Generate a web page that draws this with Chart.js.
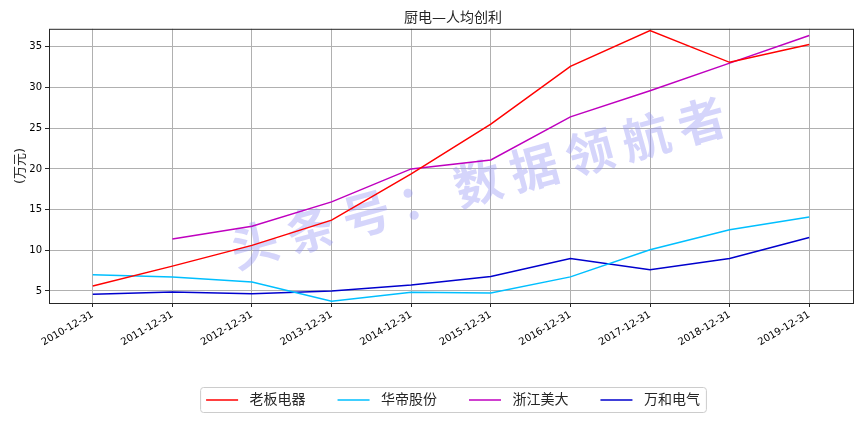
<!DOCTYPE html>
<html>
<head>
<meta charset="utf-8">
<script src="https://cdn.jsdelivr.net/npm/chart.js@4/dist/chart.umd.min.js"></script>
<style>
  html, body { margin: 0; padding: 0; background: #fff; }
  #wrap { width: 864px; height: 432px; }
</style>
</head>
<body>
<div id="wrap"><canvas id="chart" width="864" height="432"></canvas></div>
<script>
const dates = ['2010-12-31','2011-12-31','2012-12-31','2013-12-31','2014-12-31',
               '2015-12-31','2016-12-31','2017-12-31','2018-12-31','2019-12-31']
const laoban = [5.6, 8.05, 10.6, 13.7, 19.4, 25.5, 32.6, 37.0, 33.1, 35.3]
const vatti  = [6.98, 6.73, 6.1, 3.73, 4.84, 4.75, 6.73, 10.06, 12.53, 14.1]
const meida  = [null, 11.4, 12.95, 15.95, 20.0, 21.1, 26.4, 29.6, 33.0, 36.4]
const vanward = [4.6, 4.88, 4.67, 5.0, 5.74, 6.77, 8.99, 7.6, 9.0, 11.58]
const yTicks = [5, 10, 15, 20, 25, 30, 35]

const cjk = '"DejaVu Sans", "Noto Sans CJK SC", sans-serif'

function pts(arr){
    return arr.map((v, i) => ({ x: i, y: v }))
}

// center title and legend on the plot area instead of the whole canvas
const centerOnPlot = {
    id: 'centerOnPlot',
    afterLayout(chart){
        const a = chart.chartArea
        const shift = (a.left + a.right) / 2 - chart.width / 2 + (13 - 11) / 2
        ;[chart.titleBlock, chart.legend].forEach(b => {
            if (!b) return
            b.left += shift
            b.right += shift
        })
    }
}

// matplotlib style frame around the plot area
const frame = {
    id: 'frame',
    afterDatasetsDraw(chart){
        const { ctx, chartArea: a } = chart
        ctx.save()
        ctx.strokeStyle = '#262626'
        ctx.lineWidth = 1
        ctx.strokeRect(a.left + 0.5, a.top + 0.5, a.right - a.left, a.bottom - a.top)
        ctx.restore()
    }
}

// watermark text
const mark = {
    id: 'mark',
    beforeDatasetsDraw(chart){
        const ctx = chart.ctx
        const text = '头条号：数据领航者'
        ctx.save()
        ctx.fillStyle = 'rgba(150,150,245,0.4)'
        ctx.font = 'bold 48px "Noto Sans CJK SC"'
        ctx.textAlign = 'center'
        ctx.textBaseline = 'middle'
        const ang = -0.27
        for (let i = 0; i < text.length; i++) {
            const d = (i - 4) * 58
            ctx.save()
            ctx.translate(478 + d * Math.cos(ang), 183 + d * Math.sin(ang))
            ctx.rotate(ang)
            ctx.fillText(text[i], 0, 0)
            ctx.restore()
        }
        ctx.restore()
    }
}

// box around the legend items
const legendBox = {
    id: 'legendBox',
    afterDraw(chart){
        const boxes = chart.legend.legendHitBoxes
        if (!boxes || !boxes.length) return
        const first = boxes[0], last = boxes[boxes.length - 1]
        const x0 = first.left - 6, x1 = last.left + last.width + 6
        const y0 = first.top - 6, y1 = first.top + first.height + 5
        const ctx = chart.ctx
        ctx.save()
        ctx.strokeStyle = '#cccccc'
        ctx.lineWidth = 1
        ctx.beginPath()
        ctx.roundRect(x0 + 0.5, y0 + 0.5, x1 - x0, y1 - y0, 3)
        ctx.stroke()
        ctx.restore()
    }
}

function ds(label, data, color){
    return {
        label: label,
        data: pts(data),
        borderColor: color,
        backgroundColor: color,
        borderWidth: 1.5,
        pointRadius: 0,
        tension: 0,
        spanGaps: false
    }
}

new Chart(document.getElementById('chart'), {
    type: 'line',
    data: {
        datasets: [
            ds('老板电器', laoban, '#ff0000'),
            ds('华帝股份', vatti, '#00bfff'),
            ds('浙江美大', meida, '#bf00bf'),
            ds('万和电气', vanward, '#0000cd')
        ]
    },
    options: {
        responsive: false,
        animation: false,
        layout: { padding: { left: 13, right: 11, top: 4, bottom: 15 } },
        plugins: {
            tooltip: { enabled: false },
            title: {
                display: true,
                text: '厨电—人均创利',
                color: '#262626',
                font: { family: cjk, size: 14, weight: 'normal' },
                padding: { top: 6, bottom: 2 }
            },
            legend: {
                position: 'bottom',
                labels: {
                    usePointStyle: true,
                    pointStyle: 'line',
                    pointStyleWidth: 32,
                    color: '#262626',
                    padding: 32,
                    font: { family: cjk, size: 14 },
                    generateLabels(chart){
                        const items = Chart.defaults.plugins.legend.labels.generateLabels(chart)
                        items.forEach(it => { it.text = ' ' + it.text })
                        return items
                    }
                }
            }
        },
        scales: {
            x: {
                type: 'linear',
                min: -0.55,
                max: 9.55,
                afterBuildTicks(scale){
                    scale.ticks = dates.map((d, i) => ({ value: i }))
                },
                afterFit(scale){ scale.height = 58 },
                ticks: {
                    autoSkip: false,
                    maxRotation: 30,
                    minRotation: 30,
                    color: '#000',
                    font: { family: cjk, size: 10 },
                    padding: 2,
                    callback: v => dates[v]
                },
                grid: { color: '#b0b0b0', lineWidth: 1, tickColor: '#262626', tickLength: 4 },
                border: { display: false }
            },
            y: {
                min: 3.52,
                max: 37.22,
                afterBuildTicks(scale){
                    scale.ticks = yTicks.map(v => ({ value: v }))
                },
                afterFit(scale){ scale.width = 36 },
                ticks: {
                    color: '#000',
                    font: { family: cjk, size: 10 },
                    padding: 3
                },
                title: {
                    display: true,
                    text: '(万元)',
                    color: '#262626',
                    font: { family: cjk, size: 13 },
                    padding: 0
                },
                grid: { color: '#b0b0b0', lineWidth: 1, tickColor: '#262626', tickLength: 4 },
                border: { display: false }
            }
        }
    },
    plugins: [centerOnPlot, mark, frame, legendBox]
})
</script>
</body>
</html>
